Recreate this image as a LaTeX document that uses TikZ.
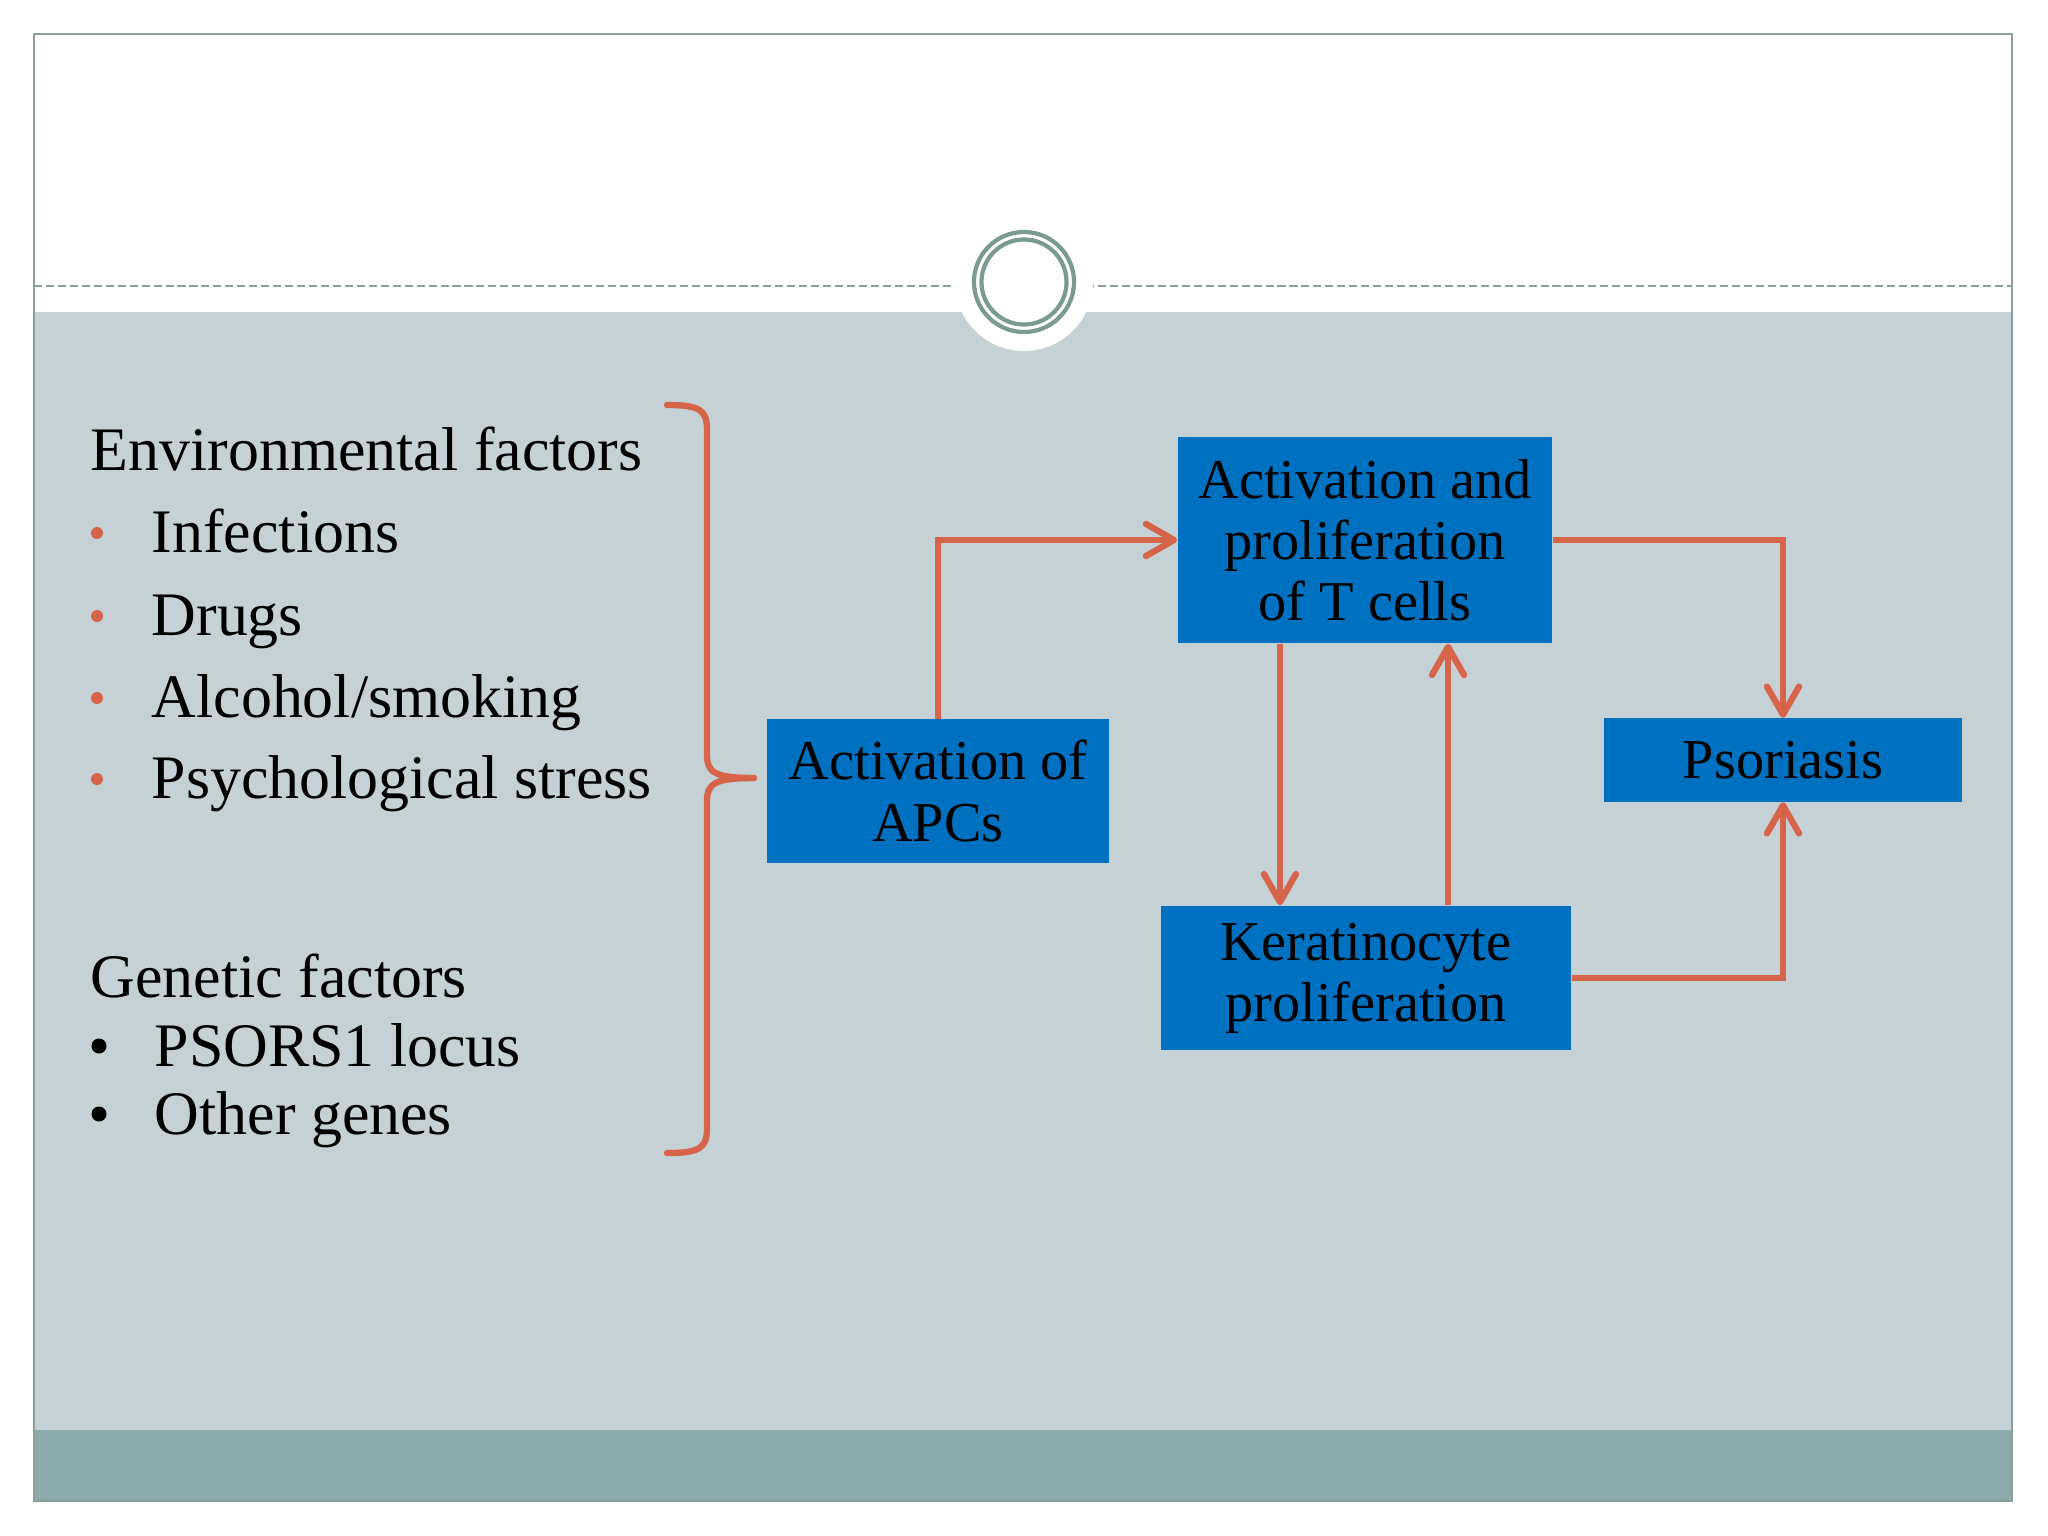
\documentclass[tikz,border=0pt]{standalone}
\usepackage{fontspec}
\setmainfont{Liberation Serif}
\usetikzlibrary{arrows.meta, positioning, calc}
\definecolor{slidegray}{RGB}{197,209,213}
\definecolor{bandteal}{RGB}{140,170,171}
\definecolor{framegray}{RGB}{139,158,155}
\definecolor{ringgreen}{RGB}{123,154,146}
\definecolor{flowblue}{RGB}{0,112,192}
\definecolor{floworange}{RGB}{214,100,74}

\begin{document}
\begin{tikzpicture}[x=0.01cm, y=-0.01cm,
    box/.style={rectangle, fill=flowblue, inner sep=0pt, align=center, font=\fontsize{16}{17.4}\selectfont},
    arrow/.style={-{Straight Barb[length=2.8mm, width=3.2mm, round]}, line width=1.8pt, color=floworange},
    brace/.style={line width=1.8pt, color=floworange, line cap=round},
    item/.style={anchor=base west, inner sep=0pt, font=\fontsize{17.6}{20}\selectfont}
]

% Slide background
\fill[white] (0,0) rectangle (2048,1536);
\fill[slidegray] (34,312) rectangle (2012,1430);
\fill[bandteal] (34,1430) rectangle (2012,1501);
\draw[framegray, line width=0.6pt, dash pattern=on 2.3pt off 1.1pt] (34,286) -- (2012,286);
\fill[white] (1024,282) circle[radius=0.69cm];
\draw[ringgreen, line width=1.2pt] (1024,282) circle[radius=0.50cm];
\draw[ringgreen, line width=1.2pt] (1024,282) circle[radius=0.425cm];
\draw[framegray, line width=0.6pt] (34,34) rectangle (2012,1501);

% Factors
\node[item] (envhead) at (90,470) {Environmental factors};
\node[item] (infect) at (151,552) {Infections};
\node[item] (drugs) at (151,635) {Drugs};
\node[item] (alcohol) at (151,717) {Alcohol/smoking};
\node[item] (stress) at (151,798) {Psychological stress};
\fill[floworange] (97,533) circle[radius=0.06cm];
\fill[floworange] (97,616) circle[radius=0.06cm];
\fill[floworange] (97,698) circle[radius=0.06cm];
\fill[floworange] (97,779) circle[radius=0.06cm];

\node[item] (genhead) at (90,997) {Genetic factors};
\node[item] (psors) at (154,1066) {PSORS1 locus};
\node[item] (genes) at (154,1134) {Other genes};
\fill[black] (99,1046) circle[radius=0.075cm];
\fill[black] (99,1114) circle[radius=0.075cm];

% Brace
\coordinate (bracetip) at (754,778);
\draw[brace] (667,405) .. controls (700,405) and (707,410) .. (707,430) -- (707,755) .. controls (707,772) and (714,778) .. (bracetip);
\draw[brace] (bracetip) .. controls (714,778) and (707,784) .. (707,801) -- (707,1128) .. controls (707,1148) and (700,1153) .. (667,1153);

% Boxes
\node[box, minimum width=3.41cm, minimum height=1.43cm] (apc) at (938,791) {Activation of\\APCs};
\node[box, minimum width=3.74cm, minimum height=2.06cm] (tcell) at (1365,540) {Activation and\\proliferation\\of T cells};
\node[box, minimum width=4.10cm, minimum height=1.44cm] (kera) at (1366,978) {Keratinocyte\\proliferation};
\node[box, minimum width=3.58cm, minimum height=0.83cm] (psor) at (1783,760) {Psoriasis};

% Arrows
\draw[arrow] (apc.north) |- (tcell.west);
\draw[arrow] (tcell.east) -| (psor.north);
\draw[arrow] ([xshift=-0.85cm]tcell.south) -- ([xshift=-0.85cm]tcell.south |- kera.north);
\draw[arrow] ([xshift=0.82cm]kera.north) -- ([xshift=0.82cm]kera.north |- tcell.south);
\draw[arrow] (kera.east) -| (psor.south);

\end{tikzpicture}
\end{document}
